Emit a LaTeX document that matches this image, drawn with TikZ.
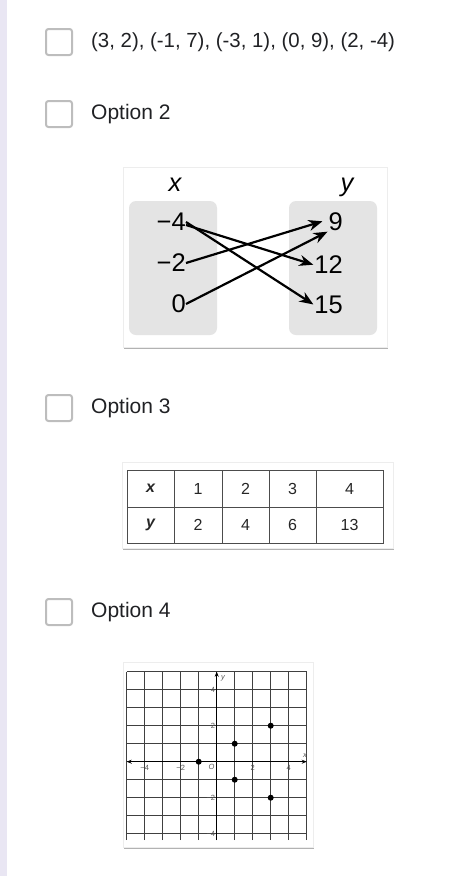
\documentclass[tikz,border=0pt]{standalone}
\usepackage{fontspec}
\setmainfont{Liberation Sans}
\usetikzlibrary{arrows.meta,positioning,shadows}

\definecolor{formtext}{HTML}{202124}
\definecolor{boxgray}{HTML}{BDBDBD}
\definecolor{setgray}{HTML}{E4E4E4}
\definecolor{stripe}{HTML}{E9E6F3}

\begin{document}
\begin{tikzpicture}[x=1pt,y=-1pt,
    checkbox/.style={draw=boxgray,line width=2pt,rounded corners=2.5pt,minimum size=26pt,inner sep=0pt},
    answer/.style={anchor=west,text=formtext,font=\fontsize{21}{24}\selectfont,inner sep=0pt},
    card/.style={fill=white,draw=black!7,line width=0.6pt,
      drop shadow={shadow xshift=0.8pt,shadow yshift=-1.6pt,opacity=0.3,fill=black}},
    setbox/.style={fill=setgray,rounded corners=7pt},
    num/.style={font=\fontsize{25.5}{28}\selectfont,inner sep=0pt,anchor=east},
    cell/.style={font=\fontsize{16}{18}\selectfont,text=black!85},
    tick/.style={font=\fontsize{7.5}{8}\selectfont,text=black!65,inner sep=1pt},
    dot/.style={circle,fill=black,inner sep=0pt,minimum size=6pt},
    >={Stealth[length=14pt,width=11pt]}]
  \useasboundingbox (0,0) rectangle (466,876);
  \fill[stripe] (0,0) rectangle (7,876);

  % answer choices
  \node[checkbox] (box1) at (59,42) {};
  \node[answer,right=18pt of box1,font=\fontsize{20.4}{24}\selectfont] (opt1) {(3, 2), (-1, 7), (-3, 1), (0, 9), (2, -4)};
  \node[checkbox] (box2) at (59,114) {};
  \node[answer,right=18pt of box2] (opt2) {Option 2};
  \node[checkbox] (box3) at (59,408) {};
  \node[answer,right=18pt of box3] (opt3) {Option 3};
  \node[checkbox] (box4) at (59,612) {};
  \node[answer,right=18pt of box4] (opt4) {Option 4};

  % mapping diagram
  \draw[card] (123,167) rectangle (387,347);
  \fill[setbox] (129,201) rectangle (217,335);
  \fill[setbox] (289,201) rectangle (377,335);
  \node[num,anchor=center] (xlab) at (175,185) {\itshape x};
  \node[num,anchor=center] (ylab) at (347,187) {\itshape y};
  \node[num] (xm4) at (186,222) {−4};
  \node[num] (xm2) at (186,263) {−2};
  \node[num] (x0) at (186,304) {0};
  \node[num] (y9) at (343,222) {9};
  \node[num] (y12) at (343,265) {12};
  \node[num] (y15) at (343,305) {15};
  \path[->,line width=2.2pt,shorten >=1pt]
    ([yshift=-3pt]xm4.east) edge (y12.west)
    (xm4.east) edge (y15.west)
    (xm2.east) edge ([xshift=-5pt,yshift=1pt]y9.west)
    (x0.east) edge (y9.south west)
    ;

  % table
  \draw[card] (122,462) rectangle (393,548);
  \draw[black!70,line width=0.9pt] (127,470) rectangle (383,543)
    (127,507) -- (383,507)
    \foreach \cx in {174,222,269,316} {(\cx,470) -- (\cx,543)};
  \node[cell,font=\fontsize{16}{18}\selectfont\bfseries\itshape] (xhead) at (150.5,488.5) {x};
  \node[cell,font=\fontsize{16}{18}\selectfont\bfseries\itshape] (yhead) at (150.5,525) {y};
  \foreach \cx/\va/\vb [count=\i] in {198/1/2,245.5/2/4,292.5/3/6,349.5/4/13} {
    \node[cell] (xv\i) at (\cx,488.5) {\va};
    \node[cell] (yv\i) at (\cx,525) {\vb};
  }

  % coordinate grid
  \draw[card] (123,662) rectangle (313,847);
  \begin{scope}[shift={(216.7,761.7)},x=18pt,y=18pt]
    \foreach \gx in {-5,...,5}
      \draw[black!75,line width=0.8pt] (\gx,-4.35) -- (\gx,5);
    \foreach \gy in {-4,...,5}
      \draw[black!75,line width=0.8pt] (-5,\gy) -- (5,\gy);
    \draw[<->,>={Stealth[length=5pt,width=4pt]},line width=1pt] (-5,0) -- (5,0);
    \draw[->,>={Stealth[length=5pt,width=4pt]},line width=1pt] (0,-4.35) -- (0,5);
    \node[tick,font=\fontsize{7.5}{8}\selectfont\itshape] (xaxis) at (4.9,0.37) {x};
    \node[tick,font=\fontsize{7.5}{8}\selectfont\itshape] (yaxis) at (0.35,4.65) {y};
    \node[tick,font=\fontsize{7.5}{8}\selectfont\itshape] (orig) at (-0.28,-0.3) {O};
    \foreach \t/\lab in {-4/−4,-2/−2,2/2,4/4} {
      \node[tick] (xt\t) at (\t,-0.33) {\lab};
      \node[tick,anchor=east] (yt\t) at (-0.02,\t) {\lab};
    }
    \foreach \px/\py [count=\i] in {-1/0,1/1,1/-1,3/2,3/-2}
      \node[dot] (pt\i) at (\px,\py) {};
  \end{scope}
\end{tikzpicture}
\end{document}
